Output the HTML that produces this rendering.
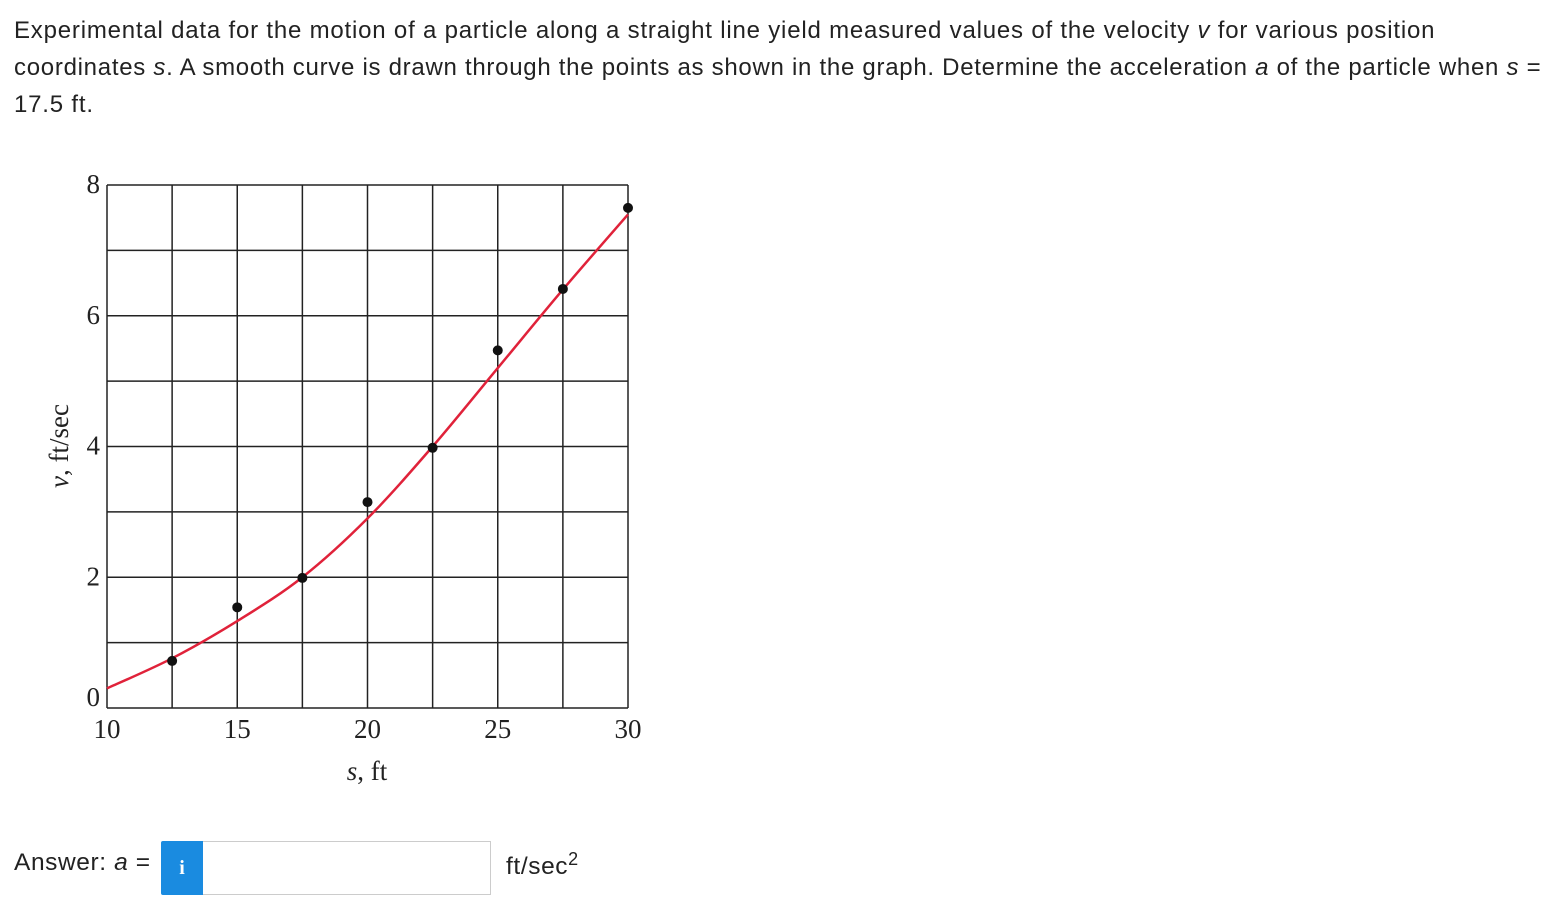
<!DOCTYPE html>
<html><head><meta charset="utf-8"><style>
body{margin:0;width:1555px;height:909px;background:#fff;position:relative;overflow:hidden;font-family:"Liberation Sans",sans-serif;color:#222}
.p{position:absolute;left:14px;font-size:24px;letter-spacing:0.8px;white-space:nowrap;line-height:37px}
</style></head><body>
<div class="p" style="top:12px">Experimental data for the motion of a particle along a straight line yield measured values of the velocity <i>v</i> for various position<br><span style="letter-spacing:0.72px">coordinates <i>s</i>. A smooth curve is drawn through the points as shown in the graph. Determine the acceleration <i>a</i> of the particle when <i>s</i> =</span><br>17.5 ft.</div>
<svg id="chart" width="700" height="820" style="position:absolute;left:0;top:0" font-family="Liberation Serif, serif"></svg>
<div style="position:absolute;left:14px;top:849px;font-size:24.5px;letter-spacing:0.6px">Answer: <i>a</i> =</div>
<div style="position:absolute;left:161px;top:841px;width:42px;height:54px;background:#1a8be0;color:#fff;font-weight:bold;font-size:20px;text-align:center;line-height:54px;font-family:'Liberation Serif',serif;border-radius:2px 0 0 2px">i</div>
<div style="position:absolute;left:203px;top:841px;width:287px;height:52px;border:1px solid #ccc;border-left:none"></div>
<div style="position:absolute;left:506px;top:849px;font-size:24.5px;letter-spacing:0.6px">ft/sec<sup style="font-size:18px">2</sup></div>
<script>
const xTicks=[10,15,20,25,30];
const yTicks=[0,2,4,6,8];
const pointS=[12.5,15,17.5,20,22.5,25,27.5,30];
const pointV=[0.72,1.54,1.99,3.15,3.98,5.47,6.41,7.65];
const curveS=[10,12.5,15,17.5,20,22.5,25,27.5,30];
const curveV=[0.3,0.76,1.33,2.0,2.9,4.0,5.2,6.4,7.55];
const NS="http://www.w3.org/2000/svg";
const svg=document.getElementById('chart');
const x0=107,x1=628,y0=708,y1=185;
const X=s=>x0+(s-10)/20*(x1-x0);
const Y=v=>y0-v/8*(y0-y1);
function mk(t,a){const e=document.createElementNS(NS,t);for(const k in a)e.setAttribute(k,a[k]);svg.appendChild(e);return e;}
for(let s=10;s<=30.01;s+=2.5){const l=mk('line',{x1:X(s),x2:X(s),y1:y1,y2:y0,stroke:'#222','stroke-width':1.5});

}
for(let v=0;v<=8.01;v+=1){const l=mk('line',{x1:x0,x2:x1,y1:Y(v),y2:Y(v),stroke:'#222','stroke-width':1.5});

}
xTicks.forEach(s=>{const t=mk('text',{x:X(s),y:738,'font-size':27,'text-anchor':'middle',fill:'#222'});t.textContent=s;

});
yTicks.forEach(v=>{const t=mk('text',{x:100,y:Y(v)+(v===0?-2:8),'font-size':27,'text-anchor':'end',fill:'#222'});t.textContent=v;

});
const xt=mk('text',{x:367,y:780,'font-size':27,'text-anchor':'middle',fill:'#222'});xt.innerHTML='<tspan font-style="italic">s</tspan>, ft';


const yt=mk('text',{x:0,y:0,'font-size':27,'text-anchor':'middle',fill:'#222',transform:'translate(68,446) rotate(-90)'});yt.innerHTML='<tspan font-style="italic">v</tspan>, ft/sec';


const P=curveS.map((s,i)=>[X(s),Y(curveV[i])]);
let d='M'+P[0][0]+','+P[0][1];
for(let i=0;i<P.length-1;i++){const p0=P[Math.max(0,i-1)],p1=P[i],p2=P[i+1],p3=P[Math.min(P.length-1,i+2)];
d+=' C'+(p1[0]+(p2[0]-p0[0])/6)+','+(p1[1]+(p2[1]-p0[1])/6)+' '+(p2[0]-(p3[0]-p1[0])/6)+','+(p2[1]-(p3[1]-p1[1])/6)+' '+p2[0]+','+p2[1];}
const c=mk('path',{d:d,fill:'none',stroke:'#e0223a','stroke-width':2.5});


pointS.forEach((s,i)=>{const p=mk('circle',{cx:X(s),cy:Y(pointV[i]),r:5,fill:'#111'});

});
</script>
</body></html>
